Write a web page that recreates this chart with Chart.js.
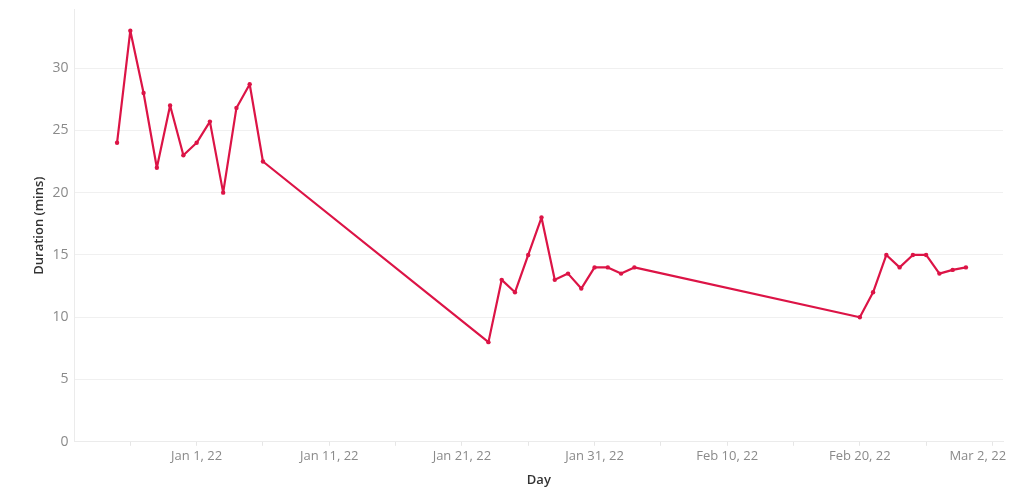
<!DOCTYPE html>
<html>
<head>
<meta charset="utf-8">
<script src="https://cdn.jsdelivr.net/npm/chart.js@4.4.1/dist/chart.umd.min.js"></script>
<style>
html,body{margin:0;padding:0;background:#fff;}
#wrap{width:1024px;height:492px;}
</style>
</head>
<body>
<div id="wrap"><canvas id="c" width="1024" height="492"></canvas></div>
<script>
const dates = ['2021-12-26','2021-12-27','2021-12-28','2021-12-29','2021-12-30','2021-12-31',
  '2022-01-01','2022-01-02','2022-01-03','2022-01-04','2022-01-05','2022-01-06',
  '2022-01-23','2022-01-24','2022-01-25','2022-01-26','2022-01-27','2022-01-28','2022-01-29',
  '2022-01-30','2022-01-31','2022-02-01','2022-02-02','2022-02-03',
  '2022-02-20','2022-02-21','2022-02-22','2022-02-23','2022-02-24','2022-02-25','2022-02-26',
  '2022-02-27','2022-02-28'];
const durations = [24,33,28,22,27,23,24,25.7,20,26.8,28.7,22.5,
  8,13,12,15,18,13,13.5,12.3,14,14,13.5,14,
  10,12,15,14,15,15,13.5,13.8,14];
const xTickDates = ['2022-01-01','2022-01-11','2022-01-21','2022-01-31','2022-02-10','2022-02-20','2022-03-02'];
const xTickLabels = ['Jan 1, 22','Jan 11, 22','Jan 21, 22','Jan 31, 22','Feb 10, 22','Feb 20, 22','Mar 2, 22'];
const yTicks = [0,5,10,15,20,25,30];

const base = Date.UTC(2022,0,1);
const toDay = s => { const p = s.split('-').map(Number); return Math.round((Date.UTC(p[0],p[1]-1,p[2]) - base)/86400000); };
const points = dates.map((d,i)=>({x: toDay(d), y: durations[i]}));
const majorDays = xTickDates.map(toDay);
const minorDays = [];
for (let i = 0; i < majorDays.length; i++) {
  minorDays.push(majorDays[i]);
  if (i > 0) minorDays.push((majorDays[i-1]+majorDays[i])/2);
}
minorDays.push(majorDays[0] - 5);
minorDays.sort((a,b)=>a-b);

// keep the last x label inside the plot's right edge (as in the reference)
const lastLabelFit = {
  id: 'lastLabelFit',
  beforeDraw(chart) {
    const sx = chart.scales.x;
    const items = sx.getLabelItems();
    const last = xTickLabels[xTickLabels.length - 1];
    items.forEach(it => {
      if (it.label === last) {
        it.options.textAlign = 'right';
        it.options.translation = [sx.right + 3, it.options.translation[1]];
      }
    });
  }
};

const color = '#dc1446';
new Chart(document.getElementById('c'), {
  type: 'line',
  data: { datasets: [{
    data: points,
    borderColor: color,
    backgroundColor: color,
    borderWidth: 2.2,
    borderJoinStyle: 'round',
    borderCapStyle: 'round',
    pointRadius: 2.2,
    pointHoverRadius: 2.2,
    pointBorderWidth: 0,
    tension: 0
  }]},
  plugins: [lastLabelFit],
  options: {
    responsive: false,
    animation: false,
    layout: { padding: { left: 31, right: 19, top: 8, bottom: 4 } },
    plugins: { legend: { display: false }, tooltip: { enabled: false } },
    scales: {
      x: {
        type: 'linear',
        min: -9.2,
        max: 60.8,
        afterBuildTicks: s => { s.ticks = minorDays.map(v=>({value:v})); },
        ticks: {
          autoSkip: false, maxRotation: 0, color: '#8a8a8a', padding: 3,
          font: { family: 'Open Sans', size: 13 },
          callback: v => { const i = majorDays.indexOf(v); return i >= 0 ? xTickLabels[i] : ''; }
        },
        grid: { drawOnChartArea: false, tickLength: 4, color: '#e6e6e6' },
        border: { color: '#ebebeb' },
        title: { display: true, text: 'Day', color: '#333', font: { family: 'Open Sans', size: 13, weight: '600' }, padding: { top: 5, bottom: 0 } }
      },
      y: {
        min: 0,
        max: 34.7,
        afterBuildTicks: s => { s.ticks = yTicks.map(v=>({value:v})); },
        ticks: { color: '#8a8a8a', padding: 6, font: { family: 'Open Sans', size: 14, lineHeight: 0.5 } },
        grid: { color: '#f0f0f0', drawTicks: false },
        border: { color: '#ebebeb' },
        title: { display: true, text: 'Duration (mins)', color: '#333', font: { family: 'Open Sans', size: 13, weight: '600' }, padding: { top: 0, bottom: 0 } }
      }
    }
  }
});
</script>
</body>
</html>
